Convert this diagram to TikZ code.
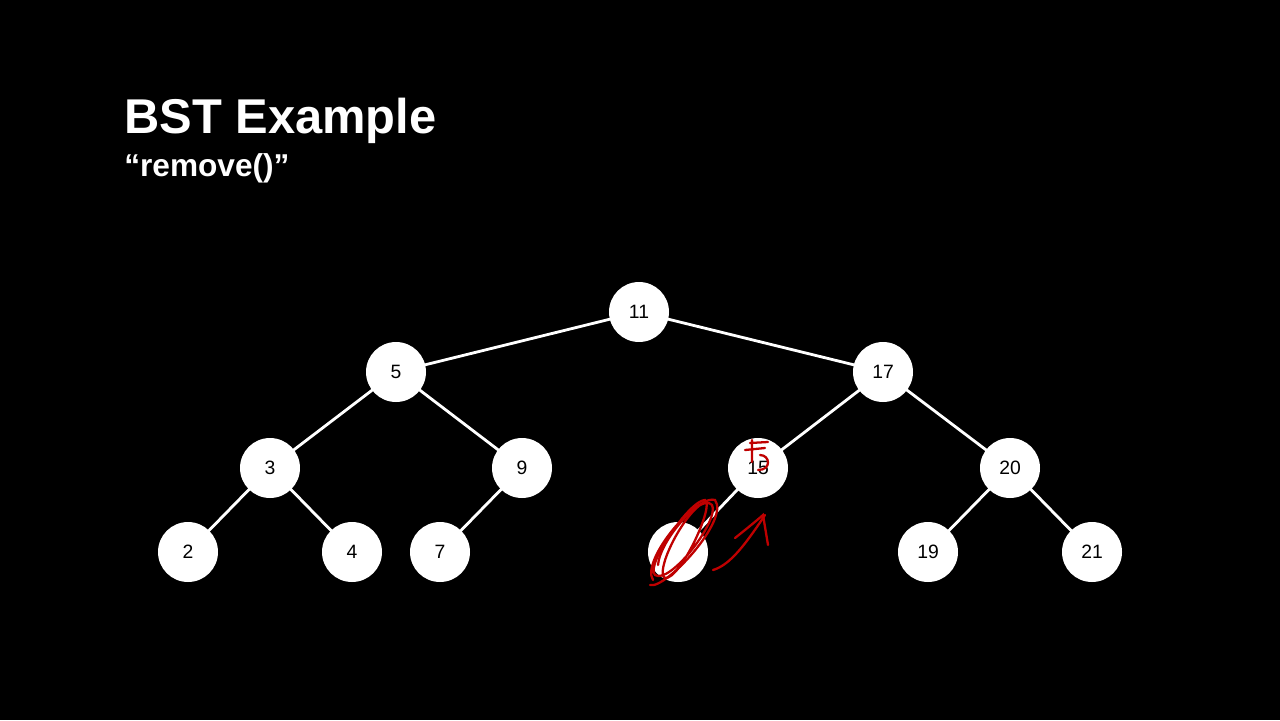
\documentclass[tikz,border=0pt]{standalone}
\usepackage{fontspec}
\setmainfont{Liberation Sans}
\begin{document}
\begin{tikzpicture}[x=0.02cm,y=-0.02cm,
  nd/.style={circle,fill=white,minimum size=1.2cm,inner sep=0pt,font=\fontsize{11}{13}\selectfont},
  ed/.style={white,line width=1.6pt},
  red/.style={draw=red!75!black,line width=1.3pt,line cap=round}]
\fill[black] (0,0) rectangle (1280,720);
\useasboundingbox (0,0) rectangle (1280,720);
\node[anchor=base west,white,font=\bfseries\fontsize{27.8}{32}\selectfont,inner sep=0pt] (t) at (124,133) {BST Example};
\node[anchor=base west,white,font=\bfseries\fontsize{18}{21}\selectfont,inner sep=0pt] (s) at (124,176) {“remove()”};
\coordinate (n11) at (639,312);
\coordinate (n5) at (396,372);
\coordinate (n17) at (883,372);
\coordinate (n3) at (270,468);
\coordinate (n9) at (522,468);
\coordinate (n15) at (758,468);
\coordinate (n20) at (1010,468);
\coordinate (n2) at (188,552);
\coordinate (n4) at (352,552);
\coordinate (n7) at (440,552);
\coordinate (n12) at (678,552);
\coordinate (n19) at (928,552);
\coordinate (n21) at (1092,552);
\draw[ed] (n11)--(n5) (n11)--(n17) (n5)--(n3) (n5)--(n9) (n17)--(n15) (n17)--(n20)
  (n3)--(n2) (n3)--(n4) (n9)--(n7) (n15)--(n12) (n20)--(n19) (n20)--(n21);
\node[nd] (a11) at (n11) {11};
\node[nd] (a5) at (n5) {5};
\node[nd] (a17) at (n17) {17};
\node[nd] (a3) at (n3) {3};
\node[nd] (a9) at (n9) {9};
\node[nd] (a15) at (n15) {15};
\node[nd] (a20) at (n20) {20};
\node[nd] (a2) at (n2) {2};
\node[nd] (a4) at (n4) {4};
\node[nd] (a7) at (n7) {7};
\node[nd] (a12) at (n12) {};
\node[nd] (a19) at (n19) {19};
\node[nd] (a21) at (n21) {21};
% red scribbles
\draw[red] (653,580) .. controls (640,560) and (700,490) .. (712,505) .. controls (720,520) and (670,585) .. (655,575)
  .. controls (645,565) and (690,500) .. (705,500) .. controls (715,505) and (680,580) .. (665,578)
  .. controls (655,572) and (680,520) .. (700,505);
\draw[red] (650,585) .. controls (665,590) and (730,520) .. (715,500) .. controls (700,495) and (660,540) .. (658,565);
\draw[red] (713,570) .. controls (730,565) and (745,545) .. (765,515);
\draw[red] (735,538) .. controls (745,530) and (755,522) .. (763,515) -- (768,545);
\draw[red] (752,440) -- (752,462) (745,450) -- (765,448) (760,455) .. controls (770,455) and (772,470) .. (758,470)
  (750,443) -- (768,442);
\end{tikzpicture}
\end{document}
